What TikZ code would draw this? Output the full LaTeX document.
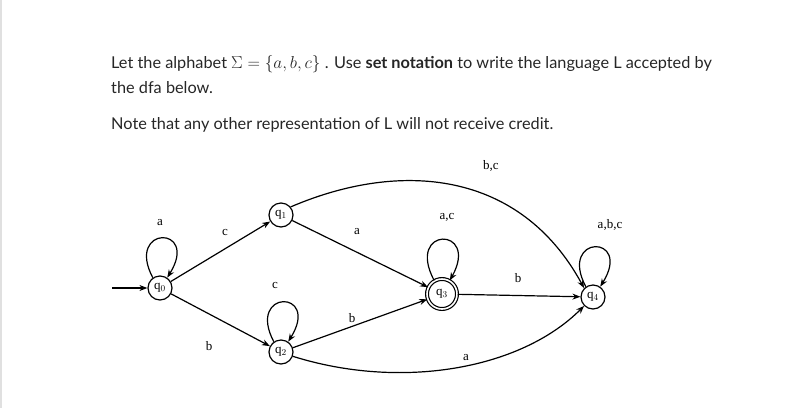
\documentclass[tikz,border=0pt]{standalone}
\usepackage{fontspec}
\setmainfont{Lato}
\newfontfamily\lab{Liberation Serif}
\usetikzlibrary{arrows.meta}
\begin{document}
\begin{tikzpicture}[x=1pt,y=-1pt,
  st/.style={circle,draw,line width=1.2pt,minimum size=24pt,inner sep=0pt,font=\lab\fontsize{13}{13}\selectfont},
  acc/.style={st,double,double distance=1.6pt,minimum size=30pt},
  edge/.style={-{Stealth[length=8pt,width=6pt]},line width=1.2pt},
  lb/.style={font=\lab\fontsize{13}{13}\selectfont,inner sep=0pt},
  txt/.style={anchor=base west,inner sep=0pt,font=\fontsize{16.3}{18}\selectfont,text=black!85}]
\useasboundingbox (0,0) rectangle (787,408);
\fill[black!12] (0,0) rectangle (2,408);
\node[txt] (t1) at (111,68) {Let the alphabet $\Sigma=\{a,b,c\}$ . Use \textbf{set notation} to write the language L accepted by};
\node[txt] (t2) at (111,93) {the dfa below.};
\node[txt] (t3) at (111,129) {Note that any other representation of L will not receive credit.};
\node[st] (q0) at (160,288) {q$_0$};
\node[st] (q1) at (281,215) {q$_1$};
\node[st] (q2) at (281,352) {q$_2$};
\node[acc] (q3) at (442,294) {q$_3$};
\node[st] (q4) at (593,297) {q$_4$};
\coordinate (s) at (112,288);
\draw[edge] (s) -- (q0);
\draw[edge] (q0) -- (q1);
\draw[edge] (q0) -- (q2);
\draw[edge] (q1) -- (q3);
\draw[edge] (q2) -- (q3);
\draw[edge] (q3) -- (q4);
\draw[edge] (q1.40) .. controls (400,160) and (520,170) .. (q4.135);
\draw[edge] (q2.-20) .. controls (400,390) and (520,370) .. (q4.-135);
\draw[edge] (q0.125) .. controls (125,225) and (200,225) .. (q0.55);
\draw[edge] (q2.125) .. controls (246,289) and (321,289) .. (q2.55);
\draw[edge] (q3.120) .. controls (405,226) and (480,226) .. (q3.60);
\draw[edge] (q4.125) .. controls (558,234) and (633,234) .. (q4.55);
\node[lb] at (160,223) {a};
\node[lb] at (225,232) {c};
\node[lb] at (209,346) {b};
\node[lb] at (275,285) {c};
\node[lb] at (357,232) {a};
\node[lb] at (352,318) {b};
\node[lb] at (447,217) {a,c};
\node[lb] at (518,278) {b};
\node[lb] at (491,166) {b,c};
\node[lb] at (610,225) {a,b,c};
\node[lb] at (466,358) {a};
\end{tikzpicture}
\end{document}
